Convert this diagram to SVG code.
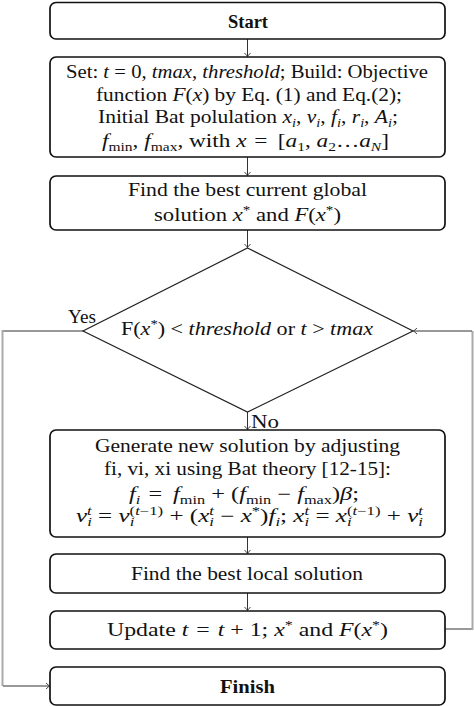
<svg xmlns="http://www.w3.org/2000/svg" width="474" height="706" viewBox="0 0 474 706">
<defs>
<style>
.box{fill:#fff;stroke:#111;stroke-width:1.7}
.dia{fill:#fff;stroke:#222;stroke-width:1.2}
.t{font-family:"Liberation Serif","Times New Roman",serif;font-size:18px;fill:#111}
.b{font-weight:bold}
.i{font-style:italic}
.s{font-size:12px}
.c{fill:none;stroke:#333;stroke-width:1}
.side{fill:none;stroke:#aaa;stroke-width:2}
</style>
<marker id="ah" viewBox="-5 -4 6 8" markerWidth="6" markerHeight="8" refX="0" refY="0" orient="auto" markerUnits="userSpaceOnUse">
<path d="M-3.5,-3 Q-1,-0.6 0,0 Q-1,0.6 -3.5,3" fill="none" stroke="#333" stroke-width="0.9"/>
</marker>
</defs>
<rect width="474" height="706" fill="#fff"/>

<g id="connectors">
<line class="c" x1="247.5" y1="39" x2="247.5" y2="56.5" marker-end="url(#ah)"/>
<line class="c" x1="247.5" y1="157" x2="247.5" y2="175.5" marker-end="url(#ah)"/>
<line class="c" x1="247.5" y1="230" x2="247.5" y2="247.5" marker-end="url(#ah)"/>
<line class="c" x1="247.5" y1="412" x2="247.5" y2="429.5" marker-end="url(#ah)"/>
<line class="c" x1="247.5" y1="537" x2="247.5" y2="553.5" marker-end="url(#ah)"/>
<line class="c" x1="247.5" y1="593" x2="247.5" y2="610.5" marker-end="url(#ah)"/>
<line class="c" x1="445" y1="629" x2="472" y2="629"/>
<line class="side" x1="472.5" y1="630" x2="472.5" y2="331"/>
<line class="c" x1="472" y1="331" x2="413.5" y2="331" marker-end="url(#ah)"/>
<line class="c" x1="83" y1="331" x2="3" y2="331"/>
<line class="side" x1="2.5" y1="330" x2="2.5" y2="686"/>
<line class="c" x1="3" y1="686" x2="49.5" y2="686" marker-end="url(#ah)"/>
<text class="t" x="68" y="323" textLength="28" lengthAdjust="spacingAndGlyphs">Yes</text>
<text class="t" x="251" y="428" textLength="28" lengthAdjust="spacingAndGlyphs">No</text>
</g>

<g id="start">
<rect class="box" x="50" y="2.5" width="395" height="36.5" rx="6"/>
<text class="t b" x="248" y="28" text-anchor="middle" textLength="40" lengthAdjust="spacingAndGlyphs">Start</text>
</g>

<g id="init">
<rect class="box" x="50" y="57" width="395" height="100" rx="6"/>
<text class="t" x="247" y="78" text-anchor="middle" textLength="362" lengthAdjust="spacingAndGlyphs">Set: <tspan class="i">t</tspan> = 0, <tspan class="i">tmax</tspan>, <tspan class="i">threshold</tspan>; Build: Objective</text>
<text class="t" x="249" y="101" text-anchor="middle" textLength="306" lengthAdjust="spacingAndGlyphs">function <tspan class="i">F</tspan>(<tspan class="i">x</tspan>) by Eq. (1) and Eq.(2);</text>
<text class="t" x="248" y="123" text-anchor="middle" textLength="300" lengthAdjust="spacingAndGlyphs">Initial Bat polulation <tspan class="i">x</tspan><tspan class="s i" dy="4">i</tspan><tspan dy="-4">, </tspan><tspan class="i">v</tspan><tspan class="s i" dy="4">i</tspan><tspan dy="-4">, </tspan><tspan class="i">f</tspan><tspan class="s i" dy="4">i</tspan><tspan dy="-4">, </tspan><tspan class="i">r</tspan><tspan class="s i" dy="4">i</tspan><tspan dy="-4">, </tspan><tspan class="i">A</tspan><tspan class="s i" dy="4">i</tspan><tspan dy="-4">;</tspan></text>
<text class="t" x="245.5" y="147" text-anchor="middle" textLength="287" lengthAdjust="spacingAndGlyphs"><tspan class="i">f</tspan><tspan class="s" dy="4">min</tspan><tspan dy="-4">, </tspan><tspan class="i">f</tspan><tspan class="s" dy="4">max</tspan><tspan dy="-4">, with </tspan><tspan class="i">x</tspan><tspan dx="6">=</tspan><tspan dx="8">[</tspan><tspan class="i">a</tspan><tspan class="s" dy="4">1</tspan><tspan dy="-4">, </tspan><tspan class="i">a</tspan><tspan class="s" dy="4">2</tspan><tspan dy="-4">…</tspan><tspan class="i">a</tspan><tspan class="s i" dy="4">N</tspan><tspan dy="-4">]</tspan></text>
</g>

<g id="global">
<rect class="box" x="50" y="176" width="395" height="54" rx="6"/>
<text class="t" x="247.5" y="196" text-anchor="middle" textLength="239" lengthAdjust="spacingAndGlyphs">Find the best current global</text>
<text class="t" x="247.5" y="221" text-anchor="middle" textLength="187" lengthAdjust="spacingAndGlyphs">solution <tspan class="i">x</tspan><tspan class="s" dy="-7">*</tspan><tspan dy="7"> and </tspan><tspan class="i">F</tspan>(<tspan class="i">x</tspan><tspan class="s" dy="-7">*</tspan><tspan dy="7">)</tspan></text>
</g>

<g id="decision">
<polygon class="dia" points="247.5,248 413,331 247.5,412 83,331"/>
<text class="t" x="247" y="335" text-anchor="middle" textLength="252" lengthAdjust="spacingAndGlyphs">F(<tspan class="i">x</tspan><tspan class="s" dy="-7">*</tspan><tspan dy="7">) &lt; </tspan><tspan class="i">threshold</tspan> or <tspan class="i">t</tspan> &gt; <tspan class="i">tmax</tspan></text>
</g>

<g id="generate">
<rect class="box" x="50" y="430" width="395" height="107" rx="6"/>
<text class="t" x="247.5" y="452" text-anchor="middle" textLength="305" lengthAdjust="spacingAndGlyphs">Generate new solution by adjusting</text>
<text class="t" x="247.5" y="475" text-anchor="middle" textLength="287" lengthAdjust="spacingAndGlyphs">fi, vi, xi using Bat theory [12-15]:</text>
<text class="t" x="244" y="500" text-anchor="middle" textLength="230" lengthAdjust="spacingAndGlyphs"><tspan class="i">f</tspan><tspan class="s i" dy="4">i</tspan><tspan dy="-4" dx="6">=</tspan><tspan dx="8" class="i">f</tspan><tspan class="s" dy="4">min</tspan><tspan dy="-4"> + (</tspan><tspan class="i">f</tspan><tspan class="s" dy="4">min</tspan><tspan dy="-4"> − </tspan><tspan class="i">f</tspan><tspan class="s" dy="4">max</tspan><tspan dy="-4">)</tspan><tspan class="i">β</tspan>;</text>
<text class="t" x="249.5" y="522" text-anchor="middle" textLength="347" lengthAdjust="spacingAndGlyphs"><tspan class="i">v</tspan><tspan class="s i" dy="-7">t</tspan><tspan class="s i" dx="-3.3" dy="11">i</tspan><tspan dy="-4"> = </tspan><tspan class="i">v</tspan><tspan class="s" dy="-7">(<tspan class="i">t</tspan>−1)</tspan><tspan class="s i" dx="-24" dy="11">i</tspan><tspan dx="20.7" dy="-4"> + (</tspan><tspan class="i">x</tspan><tspan class="s i" dy="-7">t</tspan><tspan class="s i" dx="-3.3" dy="11">i</tspan><tspan dy="-4"> − </tspan><tspan class="i">x</tspan><tspan class="s" dy="-7">*</tspan><tspan dy="7">)</tspan><tspan class="i">f</tspan><tspan class="s i" dy="4">i</tspan><tspan dy="-4">; </tspan><tspan class="i">x</tspan><tspan class="s i" dy="-7">t</tspan><tspan class="s i" dx="-3.3" dy="11">i</tspan><tspan dy="-4"> = </tspan><tspan class="i">x</tspan><tspan class="s" dy="-7">(<tspan class="i">t</tspan>−1)</tspan><tspan class="s i" dx="-24" dy="11">i</tspan><tspan dx="20.7" dy="-4"> + </tspan><tspan class="i">v</tspan><tspan class="s i" dy="-7">t</tspan><tspan class="s i" dx="-3.3" dy="11">i</tspan></text>
</g>

<g id="local">
<rect class="box" x="50" y="554" width="395" height="39" rx="6"/>
<text class="t" x="247" y="580" text-anchor="middle" textLength="232" lengthAdjust="spacingAndGlyphs">Find the best local solution</text>
</g>

<g id="update">
<rect class="box" x="50" y="611" width="395" height="38" rx="6"/>
<text class="t" x="247.5" y="636" text-anchor="middle" textLength="281" lengthAdjust="spacingAndGlyphs">Update <tspan class="i">t</tspan><tspan dx="6">=</tspan><tspan dx="6" class="i">t</tspan> + 1; <tspan class="i">x</tspan><tspan class="s" dy="-7">*</tspan><tspan dy="7"> and </tspan><tspan class="i">F</tspan>(<tspan class="i">x</tspan><tspan class="s" dy="-7">*</tspan><tspan dy="7">)</tspan></text>
</g>

<g id="finish">
<rect class="box" x="50" y="667" width="395" height="38" rx="6"/>
<text class="t b" x="247.5" y="693" text-anchor="middle" textLength="55" lengthAdjust="spacingAndGlyphs">Finish</text>
</g>
</svg>
